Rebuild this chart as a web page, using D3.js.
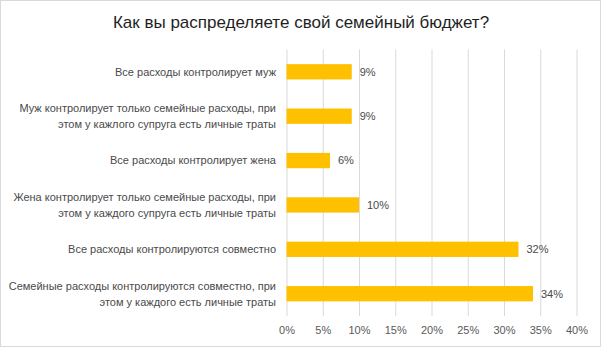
<!DOCTYPE html>
<html>
<head>
<meta charset="utf-8">
<script src="https://cdn.jsdelivr.net/npm/d3@7"></script>
<style>
  html, body { margin: 0; padding: 0; background: #fff; }
  svg { display: block; }
  text { font-family: "Liberation Sans", Arial, sans-serif; }
</style>
</head>
<body>
<svg id="chart" width="601" height="348"></svg>
<script>
const title = "Как вы распределяете свой семейный бюджет?";
const categories = [
  "Все расходы контролирует муж",
  "Муж контролирует только семейные расходы, при\nэтом у кажлого супруга есть личные траты",
  "Все расходы контролирует жена",
  "Жена контролирует только семейные расходы, при\nэтом у каждого супруга есть личные траты",
  "Все расходы контролируются совместно",
  "Семейные расходы контролируются совместно, при\nэтом у каждого есть личные траты"
];
const values = [9, 9, 6, 10, 32, 34];
const tickValues = [0, 5, 10, 15, 20, 25, 30, 35, 40];

const svg = d3.select("#chart");
const W = 601, H = 348;
const plot = { left: 286.5, right: 576.5, top: 49.5, bottom: 316 };

// chart border
svg.append("rect")
  .attr("x", 0.5).attr("y", 0.5)
  .attr("width", W - 1).attr("height", H - 2)
  .attr("fill", "#fff").attr("stroke", "#d9d9d9");

// title
svg.append("text")
  .attr("x", 301).attr("y", 28)
  .attr("text-anchor", "middle")
  .attr("font-size", 17)
  .attr("fill", "#1f1f1f")
  .text(title);

const x = d3.scaleLinear().domain([0, 40]).range([plot.left, plot.right]);
const y = d3.scaleBand().domain(categories).range([plot.top, plot.bottom]).paddingInner(0.655).paddingOuter(0.33);

// gridlines via axis
const grid = svg.append("g")
  .attr("transform", `translate(0,${plot.bottom})`)
  .call(d3.axisBottom(x).tickValues(tickValues).tickSize(-(plot.bottom - plot.top)).tickFormat(""));
grid.select(".domain").remove();
grid.selectAll(".tick line").attr("stroke", "#d9d9d9").attr("stroke-width", 1);

// tick labels
const xAxis = svg.append("g")
  .attr("transform", `translate(0,${plot.bottom})`)
  .call(d3.axisBottom(x).tickValues(tickValues).tickSize(0).tickPadding(10).tickFormat(d => d + "%"));
xAxis.select(".domain").remove();
xAxis.selectAll("text")
  .attr("font-family", "Liberation Sans, Arial, sans-serif")
  .attr("font-size", 11).attr("fill", "#595959");

// bars
svg.append("g").selectAll("rect")
  .data(values)
  .join("rect")
  .attr("x", x(0))
  .attr("y", (d, i) => y(categories[i]))
  .attr("width", d => x(d) - x(0))
  .attr("height", y.bandwidth())
  .attr("fill", "#ffc000");

// value labels
svg.append("g").selectAll("text")
  .data(values)
  .join("text")
  .attr("x", d => x(d) + 8)
  .attr("y", (d, i) => y(categories[i]) + y.bandwidth() / 2)
  .attr("dy", "0.35em")
  .attr("font-size", 11)
  .attr("fill", "#4a4a4a")
  .text(d => d + "%");

// category labels
const catG = svg.append("g");
categories.forEach(c => {
  const lines = c.split("\n");
  const cy = y(c) + y.bandwidth() / 2;
  const lh = 16;
  const t = catG.append("text")
    .attr("text-anchor", "end")
    .attr("font-size", 11)
    .attr("fill", "#4a4a4a");
  lines.forEach((ln, j) => {
    t.append("tspan")
      .attr("x", 276)
      .attr("y", cy + (j - (lines.length - 1) / 2) * lh)
      .attr("dy", "0.35em")
      .text(ln);
  });
});
</script>
</body>
</html>
